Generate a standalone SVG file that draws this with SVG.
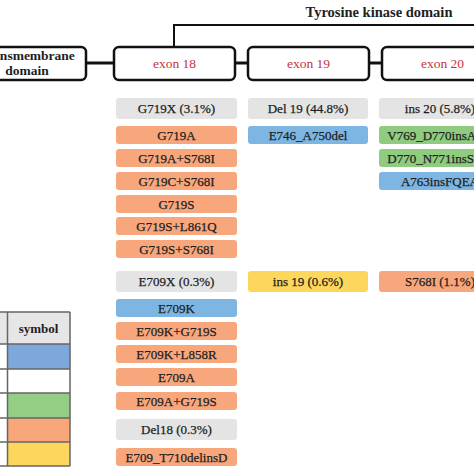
<svg xmlns="http://www.w3.org/2000/svg" width="474" height="474" viewBox="0 0 474 474">
<style>
.dom{fill:#fff;stroke:#111;stroke-width:2.5}
.conn{stroke:#111;stroke-width:3;fill:none}
.line{stroke:#111;stroke-width:2;fill:none}
.t{font-family:"Liberation Serif","Times New Roman",serif;font-size:13px;fill:#1e1e1e;stroke:#1e1e1e;stroke-width:0.25;text-anchor:middle}
.ex{font-family:"Liberation Serif","Times New Roman",serif;font-size:13.5px;fill:#c8313f;text-anchor:middle}
.b{font-weight:bold;stroke-width:0}
.g{fill:#e4e4e4}
.o{fill:#f8a67c}
.bl{fill:#7db6e3}
.gr{fill:#8fcc80}
.y{fill:#fdd65c}
.grid{stroke:#666;stroke-width:1.5;fill:none}
</style>
<rect width="474" height="474" fill="#fff"/>
<g id="connectors">
<line class="conn" x1="86" y1="63" x2="114" y2="63"/>
<line class="conn" x1="235" y1="63" x2="248" y2="63"/>
<line class="conn" x1="369" y1="63" x2="382" y2="63"/>
<polyline class="line" points="174,47 174,25 474,25"/>
</g>
<g id="tk-label"><text class="t b" x="379" y="17" style="font-size:14.5px">Tyrosine kinase domain</text></g>
<g id="tm"><rect class="dom" x="-35" y="47" width="121" height="33" rx="5"/>
<text class="t b" x="27" y="60" style="font-size:13.5px">Transmembrane</text><text class="t b" x="27" y="75" style="font-size:13.5px">domain</text></g>
<g id="exon18"><rect class="dom" x="114" y="47" width="121" height="33" rx="5"/><text class="ex" x="174.5" y="68">exon 18</text></g>
<g id="exon19"><rect class="dom" x="248" y="47" width="121" height="33" rx="5"/><text class="ex" x="308.5" y="68">exon 19</text></g>
<g id="exon20"><rect class="dom" x="382" y="47" width="121" height="33" rx="5"/><text class="ex" x="442.5" y="68">exon 20</text></g>

<g id="col1">
<rect class="g" x="116" y="98" width="121" height="21" rx="3"/><text class="t" x="176.5" y="113">G719X (3.1%)</text>
<rect class="o" x="116" y="126" width="121" height="18" rx="3"/><text class="t" x="176.5" y="139.5">G719A</text>
<rect class="o" x="116" y="149" width="121" height="18" rx="3"/><text class="t" x="176.5" y="162.5">G719A+S768I</text>
<rect class="o" x="116" y="172" width="121" height="18" rx="3"/><text class="t" x="176.5" y="185.5">G719C+S768I</text>
<rect class="o" x="116" y="195" width="121" height="18" rx="3"/><text class="t" x="176.5" y="208.5">G719S</text>
<rect class="o" x="116" y="217" width="121" height="18" rx="3"/><text class="t" x="176.5" y="230.5">G719S+L861Q</text>
<rect class="o" x="116" y="240" width="121" height="18" rx="3"/><text class="t" x="176.5" y="253.5">G719S+S768I</text>
<rect class="g" x="116" y="271" width="121" height="21" rx="3"/><text class="t" x="176.5" y="286">E709X (0.3%)</text>
<rect class="bl" x="116" y="299" width="121" height="18" rx="3"/><text class="t" x="176.5" y="312.5">E709K</text>
<rect class="o" x="116" y="322" width="121" height="18" rx="3"/><text class="t" x="176.5" y="335.5">E709K+G719S</text>
<rect class="o" x="116" y="345" width="121" height="18" rx="3"/><text class="t" x="176.5" y="358.5">E709K+L858R</text>
<rect class="o" x="116" y="368" width="121" height="18" rx="3"/><text class="t" x="176.5" y="381.5">E709A</text>
<rect class="o" x="116" y="392" width="121" height="18" rx="3"/><text class="t" x="176.5" y="405.5">E709A+G719S</text>
<rect class="g" x="116" y="419" width="121" height="21" rx="3"/><text class="t" x="176.5" y="434">Del18 (0.3%)</text>
<rect class="o" x="116" y="448" width="121" height="18" rx="3"/><text class="t" x="176.5" y="461.5">E709_T710delinsD</text>
</g>
<g id="col2">
<rect class="g" x="248" y="98" width="120" height="21" rx="3"/><text class="t" x="308" y="113">Del 19 (44.8%)</text>
<rect class="bl" x="248" y="126" width="120" height="18" rx="3"/><text class="t" x="308" y="139.5">E746_A750del</text>
<rect class="y" x="248" y="271" width="120" height="21" rx="3"/><text class="t" x="308" y="286">ins 19 (0.6%)</text>
</g>
<g id="col3">
<rect class="g" x="379" y="98" width="122" height="21" rx="3"/><text class="t" x="440" y="113">ins 20 (5.8%)</text>
<rect class="gr" x="379" y="126" width="122" height="18" rx="3"/><text class="t" x="440" y="139.5">V769_D770insASV</text>
<rect class="gr" x="379" y="149" width="122" height="18" rx="3"/><text class="t" x="440" y="162.5">D770_N771insSVD</text>
<rect class="bl" x="379" y="172" width="122" height="18" rx="3"/><text class="t" x="440" y="185.5">A763insFQEA</text>
<rect class="o" x="379" y="271" width="122" height="21" rx="3"/><text class="t" x="440" y="286">S768I (1.1%)</text>
</g>
<g id="legend">
<rect x="0" y="312" width="70" height="32" fill="#e6e6e6"/>
<rect x="8" y="344" width="62" height="25" fill="#7ea8dc"/>
<rect x="8" y="393" width="62" height="25" fill="#93ce84"/>
<rect x="8" y="418" width="62" height="24" fill="#f9a77a"/>
<rect x="8" y="442" width="62" height="24" fill="#fdd65e"/>
<path class="grid" d="M0 312H70M0 344H70M0 369H70M0 393H70M0 418H70M0 442H70M0 466H70M7.5 312V466M70 312V466"/>
<text class="t b" x="38.5" y="333">symbol</text>
</g>
</svg>
